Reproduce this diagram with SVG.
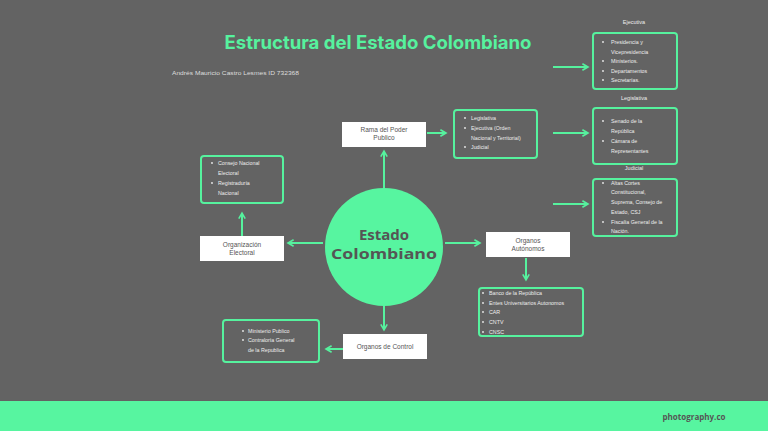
<svg xmlns="http://www.w3.org/2000/svg" width="768" height="431" viewBox="0 0 768 431">
<defs>
<style>
.wb{fill:#ffffff}
.lb{fill:none;stroke:#56f29e;stroke-width:2}
.ln{fill:none;stroke:#56f29e;stroke-width:2}
.bt{font-family:"Liberation Sans",Arial,sans-serif;font-size:6.5px;fill:#555555;text-anchor:middle}
.li{font-family:"Liberation Sans",Arial,sans-serif;font-size:5.3px;fill:#eeeeee}
.lab{font-family:"Liberation Sans",Arial,sans-serif;font-size:5.5px;fill:#eeeeee;text-anchor:middle}
.dot{fill:#eeeeee}
.ct{font-family:"Open Sans","Liberation Sans",sans-serif;font-weight:bold;font-size:15px;fill:#555555;text-anchor:middle}
</style>
<marker id="ah" viewBox="0 0 10 10" refX="8" refY="5" markerWidth="4" markerHeight="4" orient="auto" markerUnits="strokeWidth">
<path d="M1,1 L8,5 L1,9" fill="none" stroke="#56f29e" stroke-width="2"/>
</marker>
</defs>
<rect width="768" height="431" fill="#636363"/>
<rect x="0" y="401" width="768" height="30" fill="#57f5a0"/>
<text x="694" y="420" font-family="'Open Sans','Liberation Sans',sans-serif" font-weight="bold" font-size="8" fill="#555555" text-anchor="middle">photography.co</text>
<text x="378" y="49" font-family="Inter,'Liberation Sans',sans-serif" font-weight="bold" font-size="18.5" fill="#56f29e" text-anchor="middle" textLength="307" lengthAdjust="spacingAndGlyphs">Estructura del Estado Colombiano</text>
<text x="172" y="75" font-family="'Liberation Sans',sans-serif" font-size="6" fill="#dddddd" textLength="127" lengthAdjust="spacingAndGlyphs">Andrés Mauricio Castro Lesmes ID 732368</text>

<g id="connectors">
<line class="ln" x1="384" y1="189" x2="384" y2="151" marker-end="url(#ah)"/>
<line class="ln" x1="427" y1="133" x2="446" y2="133" marker-end="url(#ah)"/>
<line class="ln" x1="553" y1="67" x2="588" y2="67" marker-end="url(#ah)"/>
<line class="ln" x1="553" y1="133" x2="588" y2="133" marker-end="url(#ah)"/>
<line class="ln" x1="553" y1="204" x2="588" y2="204" marker-end="url(#ah)"/>
<line class="ln" x1="323" y1="243" x2="288" y2="243" marker-end="url(#ah)"/>
<line class="ln" x1="242" y1="236" x2="242" y2="213" marker-end="url(#ah)"/>
<line class="ln" x1="445" y1="243" x2="480" y2="243" marker-end="url(#ah)"/>
<line class="ln" x1="526" y1="258" x2="526" y2="280" marker-end="url(#ah)"/>
<line class="ln" x1="384" y1="306" x2="384" y2="330" marker-end="url(#ah)"/>
<line class="ln" x1="343" y1="349" x2="326" y2="349" marker-end="url(#ah)"/>
</g>

<g id="estado">
<circle cx="384" cy="247" r="59" fill="#57f5a0"/>
<text class="ct" x="384" y="240">Estado</text>
<text class="ct" x="384" y="259" textLength="106" lengthAdjust="spacingAndGlyphs">Colombiano</text>
</g>

<g id="rama">
<rect class="wb" x="342" y="122" width="84" height="25"/>
<text class="bt" x="384" y="132">Rama del Poder</text>
<text class="bt" x="384" y="140">Publico</text>
</g>

<g id="ramas-lista">
<rect class="lb" x="454" y="110" width="83" height="48" rx="3"/>
<circle class="dot" cx="465" cy="118" r="0.9"/>
<text class="li" x="471" y="120">Legislativa</text>
<circle class="dot" cx="465" cy="128" r="0.9"/>
<text class="li" x="471" y="130">Ejecutiva (Orden</text>
<text class="li" x="471" y="140">Nacional y Territorial)</text>
<circle class="dot" cx="465" cy="147" r="0.9"/>
<text class="li" x="471" y="149">Judicial</text>
</g>

<g id="ejecutiva">
<text class="lab" x="634" y="24">Ejecutiva</text>
<rect class="lb" x="593" y="33" width="84" height="56" rx="3"/>
<circle class="dot" cx="603" cy="42" r="0.9"/>
<text class="li" x="611" y="44">Presidencia y</text>
<text class="li" x="611" y="54">Vicepresidencia</text>
<circle class="dot" cx="603" cy="61" r="0.9"/>
<text class="li" x="611" y="63">Ministerios.</text>
<circle class="dot" cx="603" cy="71" r="0.9"/>
<text class="li" x="611" y="73">Departamentos</text>
<circle class="dot" cx="603" cy="80" r="0.9"/>
<text class="li" x="611" y="82">Secretarías.</text>
</g>

<g id="legislativa">
<text class="lab" x="634" y="100">Legislativa</text>
<rect class="lb" x="593" y="108" width="84" height="56" rx="3"/>
<circle class="dot" cx="603" cy="121" r="0.9"/>
<text class="li" x="611" y="123">Senado de la</text>
<text class="li" x="611" y="133">República</text>
<circle class="dot" cx="603" cy="141" r="0.9"/>
<text class="li" x="611" y="143">Cámara de</text>
<text class="li" x="611" y="153">Representantes</text>
</g>

<g id="judicial">
<text class="lab" x="634" y="170">Judicial</text>
<rect class="lb" x="593" y="179" width="84" height="57" rx="3"/>
<circle class="dot" cx="603" cy="183" r="0.9"/>
<text class="li" x="611" y="185">Altas Cortes</text>
<text class="li" x="611" y="194">Constitucional,</text>
<text class="li" x="611" y="204">Suprema, Consejo de</text>
<text class="li" x="611" y="214">Estado, CSJ</text>
<circle class="dot" cx="603" cy="222" r="0.9"/>
<text class="li" x="611" y="224">Fiscalía General de la</text>
<text class="li" x="611" y="233">Nación.</text>
</g>

<g id="electoral-lista">
<rect class="lb" x="201" y="156" width="82" height="47" rx="3"/>
<circle class="dot" cx="212" cy="163" r="0.9"/>
<text class="li" x="218" y="165">Consejo Nacional</text>
<text class="li" x="218" y="175">Electoral</text>
<circle class="dot" cx="212" cy="183" r="0.9"/>
<text class="li" x="218" y="185">Registraduría</text>
<text class="li" x="218" y="195">Nacional</text>
</g>

<g id="organizacion-electoral">
<rect class="wb" x="200" y="236" width="84" height="25"/>
<text class="bt" x="242" y="247">Organización</text>
<text class="bt" x="242" y="255">Electoral</text>
</g>

<g id="organos-autonomos">
<rect class="wb" x="486" y="232" width="84" height="25"/>
<text class="bt" x="528" y="243">Organos</text>
<text class="bt" x="528" y="251">Autónomos</text>
</g>

<g id="autonomos-lista">
<rect class="lb" x="479" y="288" width="104" height="48" rx="3"/>
<circle class="dot" cx="483" cy="293" r="0.9"/>
<text class="li" x="489" y="295">Banco de la República</text>
<circle class="dot" cx="483" cy="303" r="0.9"/>
<text class="li" x="489" y="305">Entes Universitarios Autonomos</text>
<circle class="dot" cx="483" cy="312" r="0.9"/>
<text class="li" x="489" y="314">CAR</text>
<circle class="dot" cx="483" cy="322" r="0.9"/>
<text class="li" x="489" y="324">CNTV</text>
<circle class="dot" cx="483" cy="332" r="0.9"/>
<text class="li" x="489" y="334">CNSC</text>
</g>

<g id="organos-control">
<rect class="wb" x="343" y="334" width="84" height="25"/>
<text class="bt" x="385" y="349">Organos de Control</text>
</g>

<g id="control-lista">
<rect class="lb" x="223" y="320" width="96" height="42" rx="3"/>
<circle class="dot" cx="243" cy="331" r="0.9"/>
<text class="li" x="248" y="333">Ministerio Publico</text>
<circle class="dot" cx="243" cy="340" r="0.9"/>
<text class="li" x="248" y="342">Contraloría General</text>
<text class="li" x="248" y="352">de la Republica</text>
</g>
</svg>
